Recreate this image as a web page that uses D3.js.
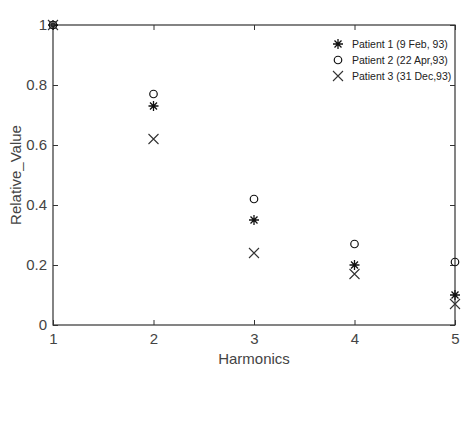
<!DOCTYPE html>
<html><head><meta charset="utf-8">
<script src="https://cdn.jsdelivr.net/npm/d3@7"></script>
<style>body{margin:0;background:#fff}</style>
</head><body>
<script>
var harmonics = [1, 2, 3, 4, 5];
var patient1 = [1, 0.73, 0.35, 0.20, 0.10];
var patient2 = [1, 0.77, 0.42, 0.27, 0.21];
var patient3 = [1, 0.62, 0.24, 0.17, 0.07];
var seriesNames = ["Patient 1 (9 Feb, 93)", "Patient 2 (22 Apr,93)", "Patient 3 (31 Dec,93)"];
var yTicks = [0, 0.2, 0.4, 0.6, 0.8, 1];

var svg = d3.select("body").append("svg").attr("width", 474).attr("height", 421);
var mLeft = 53, mTop = 25, mRight = 455, mBottom = 325;
var x = d3.scaleLinear().domain([1, 5]).range([mLeft, mRight]);
var y = d3.scaleLinear().domain([0, 1]).range([mBottom, mTop]);
var ink = "#333", txt = "#444";

svg.append("rect").attr("x", mLeft).attr("y", mTop).attr("width", mRight - mLeft).attr("height", mBottom - mTop)
  .attr("fill", "none").attr("stroke", ink).attr("stroke-width", 1.2);

svg.append("g").attr("transform", "translate(0," + mBottom + ")")
  .call(d3.axisBottom(x).tickValues(harmonics).tickSize(-5).tickPadding(8).tickFormat(d3.format("d")));
svg.append("g").attr("transform", "translate(" + mLeft + ",0)")
  .call(d3.axisLeft(y).tickValues(yTicks).tickSize(-5).tickPadding(6).tickFormat(function(d){ return d === 0 || d === 1 ? d : d3.format(".1f")(d); }));
svg.append("g").attr("transform", "translate(0," + mTop + ")")
  .call(d3.axisTop(x).tickValues(harmonics).tickSize(-5).tickFormat(""));
svg.append("g").attr("transform", "translate(" + mRight + ",0)")
  .call(d3.axisRight(y).tickValues(yTicks).tickSize(-5).tickFormat(""));
svg.selectAll(".domain").remove();
svg.selectAll(".tick line").attr("stroke", ink);
svg.selectAll(".tick text").attr("fill", txt).style("font-family", "Liberation Sans, Arial").style("font-size", "15px");

svg.append("text").attr("x", (mLeft + mRight) / 2).attr("y", mBottom + 39).attr("text-anchor", "middle")
  .attr("fill", txt).style("font-family", "Liberation Sans, Arial").style("font-size", "15px").text("Harmonics");
svg.append("text").attr("transform", "translate(21," + (mTop + mBottom) / 2 + ") rotate(-90)").attr("text-anchor", "middle")
  .attr("fill", txt).style("font-family", "Liberation Sans, Arial").style("font-size", "15px").text("Relative_Value");

function star(g, s) {
  g.append("path").attr("d", "M" + -s + ",0H" + s + "M0," + -s + "V" + s +
    "M" + -s * 0.7 + "," + -s * 0.7 + "L" + s * 0.7 + "," + s * 0.7 + "M" + -s * 0.7 + "," + s * 0.7 + "L" + s * 0.7 + "," + -s * 0.7)
    .attr("stroke", "#111").attr("stroke-width", 1.3);
}
function circ(g, s) { g.append("circle").attr("r", s * 0.75).attr("fill", "none").attr("stroke", "#111").attr("stroke-width", 1.2); }
function cross(g, s) {
  g.append("path").attr("d", "M" + -s + "," + -s + "L" + s + "," + s + "M" + -s + "," + s + "L" + s + "," + -s)
    .attr("stroke", "#333").attr("stroke-width", 1.1);
}
var markers = [star, circ, cross];
[patient1, patient2, patient3].forEach(function(vals, i) {
  svg.append("g").selectAll("g").data(vals).join("g")
    .attr("transform", function(d, j) { return "translate(" + x(harmonics[j]) + "," + y(d) + ")"; })
    .each(function() { markers[i](d3.select(this), 5); });
});

var lg = svg.append("g").attr("transform", "translate(338,44)");
seriesNames.forEach(function(n, i) {
  var g = lg.append("g").attr("transform", "translate(0," + i * 16 + ")");
  markers[i](g.append("g"), 5);
  g.append("text").attr("x", 14).attr("y", 4).attr("fill", "#222")
    .style("font-family", "Liberation Sans, Arial").style("font-size", "10.5px").text(n);
});
</script>
</body></html>
